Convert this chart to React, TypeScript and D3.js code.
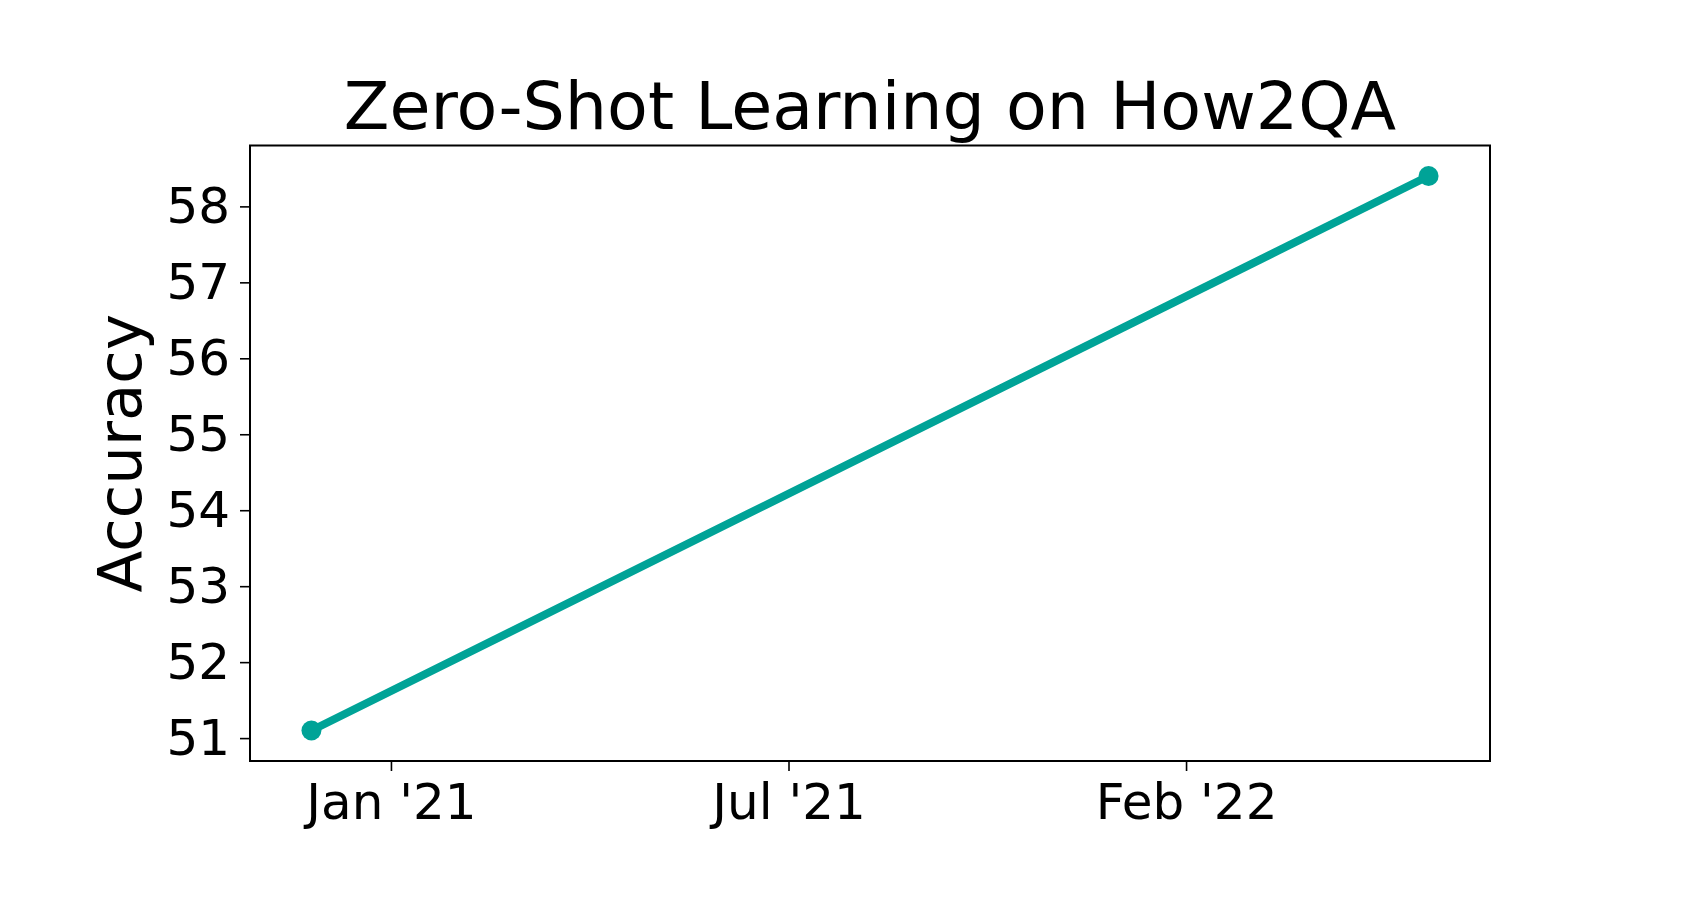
import React, { useEffect, useRef } from 'react';
import * as d3 from 'd3';

// data
const dates = ['2020-11-22', '2022-06-07'];
const accuracy = [51.1, 58.4];
const yTicks = [51, 52, 53, 54, 55, 56, 57, 58];
const xTickDates = ['2021-01-01', '2021-07-20', '2022-02-05'];
const xTickLabels = ["Jan '21", "Jul '21", "Feb '22"];

const App = () => {
  const svgRef = useRef<SVGSVGElement>(null);

  useEffect(() => {
    const svg = d3.select(svgRef.current);
    svg.selectAll('*').remove();

    const width = 1700;
    const height = 900;
    const margin = { top: 145.5, right: 210, bottom: 139, left: 250 };
    const innerW = width - margin.left - margin.right;
    const innerH = height - margin.top - margin.bottom;
    const font = 'DejaVu Sans, sans-serif';
    const teal = '#00a397';
    const padFrac = 0.055; // axis margins around the data

    const parse = d3.utcParse('%Y-%m-%d');
    const points = dates.map((d, i) => ({ date: parse(d) as Date, value: accuracy[i] }));

    const [x0, x1] = d3.extent(points, d => +d.date) as [number, number];
    const xPad = (x1 - x0) * padFrac;
    const xScale = d3.scaleUtc()
      .domain([new Date(x0 - xPad), new Date(x1 + xPad)])
      .range([0, innerW]);

    const [y0, y1] = d3.extent(accuracy) as [number, number];
    const yPad = (y1 - y0) * padFrac;
    const yScale = d3.scaleLinear()
      .domain([y0 - yPad, y1 + yPad])
      .range([innerH, 0]);

    svg.attr('width', width).attr('height', height);
    svg.append('rect').attr('width', width).attr('height', height).attr('fill', '#fff');

    const g = svg.append('g').attr('transform', `translate(${margin.left},${margin.top})`);

    // Title
    svg.append('text')
      .attr('x', margin.left + innerW / 2)
      .attr('y', 129)
      .attr('text-anchor', 'middle')
      .style('font-family', font)
      .style('font-size', '66.7px')
      .text('Zero-Shot Learning on How2QA');

    // Y axis label
    svg.append('text')
      .attr('transform', `translate(141,${margin.top + innerH / 2}) rotate(-90)`)
      .attr('text-anchor', 'middle')
      .style('font-family', font)
      .style('font-size', '61px')
      .text('Accuracy');

    // Axes
    const xTickValues = xTickDates.map(d => parse(d) as Date);
    const xAxis = d3.axisBottom(xScale)
      .tickValues(xTickValues)
      .tickFormat((d, i) => xTickLabels[i])
      .tickSize(10)
      .tickPadding(10);
    const yAxis = d3.axisLeft(yScale)
      .tickValues(yTicks)
      .tickFormat(d3.format('d'))
      .tickSize(10)
      .tickPadding(10);

    const gx = g.append('g').attr('transform', `translate(0,${innerH})`).call(xAxis);
    const gy = g.append('g').call(yAxis);
    [gx, gy].forEach(ax => {
      ax.select('.domain').remove();
      ax.selectAll('line').attr('stroke', '#000').attr('stroke-width', 1.6);
      ax.selectAll('text')
        .attr('fill', '#000')
        .style('font-family', font)
        .style('font-size', '50px');
    });
    gx.selectAll('text').attr('dy', '0.76em');

    // Line + markers
    const line = d3.line<{ date: Date; value: number }>()
      .x(d => xScale(d.date))
      .y(d => yScale(d.value));

    g.append('path')
      .datum(points)
      .attr('d', line)
      .attr('fill', 'none')
      .attr('stroke', teal)
      .attr('stroke-width', 8)
      .attr('stroke-linecap', 'square');

    g.selectAll('.dot')
      .data(points)
      .enter()
      .append('circle')
      .attr('class', 'dot')
      .attr('cx', d => xScale(d.date))
      .attr('cy', d => yScale(d.value))
      .attr('r', 10)
      .attr('fill', teal);

    // Frame
    g.append('rect')
      .attr('width', innerW)
      .attr('height', innerH)
      .attr('fill', 'none')
      .attr('stroke', '#000')
      .attr('stroke-width', 2);
  }, []);

  return (
    <div>
      <svg ref={svgRef} style={{ position: 'absolute', left: 0, top: 0 }}></svg>
    </div>
  );
};

export default App;
